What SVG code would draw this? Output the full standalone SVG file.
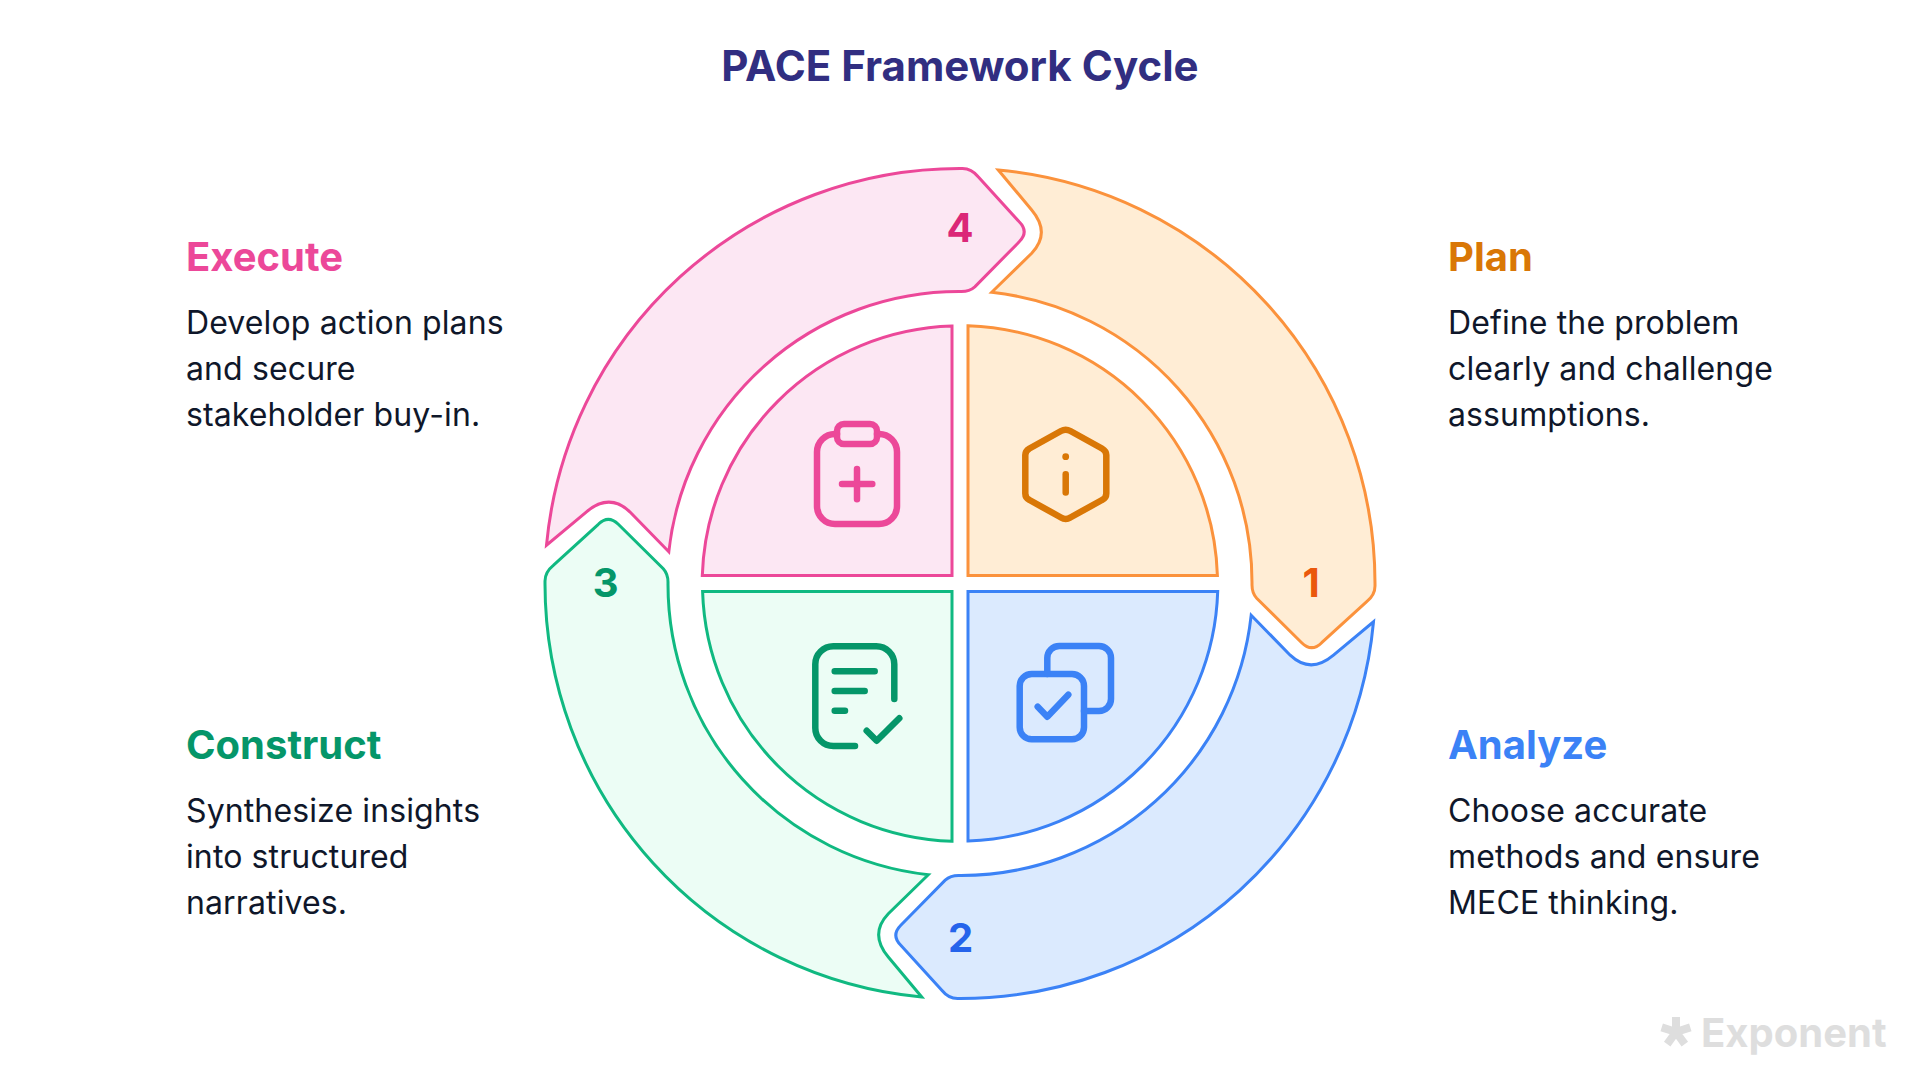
<svg xmlns="http://www.w3.org/2000/svg" width="1920" height="1080" viewBox="0 0 1920 1080">
<defs>
<path id="ring" d="M998.3 170A415 415 0 0 1 1375 583.5V586Q1375 595 1366.7 601.7L1321.7 642.7Q1311.7 652.7 1301.7 642.7L1256.7 598.3Q1252 593 1252 585V583.5A292 292 0 0 0 991.7 292.3L1031.7 253.3Q1051 233 1031.7 210Z"/>
<path id="quad" d="M968 325.8A257.6 257.6 0 0 1 1217.4 575.5H968Z"/>
</defs>
<style>
text{font-family:Inter,"Liberation Sans",sans-serif;font-optical-sizing:none}
.seg{stroke-width:3;stroke-linejoin:miter}
.ic{fill:none;stroke-width:6.5;stroke-linecap:round;stroke-linejoin:round}
.head{font-size:40px;font-weight:700}
.body{font-size:32px;font-weight:400;fill:#0F172A;letter-spacing:.12px}
.num{font-size:40px;font-weight:700;text-anchor:middle}
.o{fill:#FFEDD5;stroke:#FB923C}.b{fill:#DBEAFE;stroke:#3B82F6}.g{fill:#ECFDF5;stroke:#10B981}.p{fill:#FCE7F3;stroke:#EC4899}
</style>
<rect width="1920" height="1080" fill="#FFFFFF"/>
<text id="title" x="960" y="81" text-anchor="middle" font-size="42" font-weight="700" fill="#312E81">PACE Framework Cycle</text>
<g id="node-plan">
<use href="#ring" class="seg o"/><use href="#quad" class="seg o"/>
<text class="num" x="1311" y="597" fill="#EA580C">1</text>
<path class="ic" stroke="#D97706" d="M1061 431Q1065.7 428.4 1070.4 431L1102 448.5Q1106.3 451 1106.3 455V493.5Q1106.3 498 1102 500L1070.4 517.5Q1065.7 520.5 1061 517.5L1029.5 500Q1025.3 498 1025.3 493.5V455Q1025.3 451 1029.5 448.5Z"/>
<circle cx="1065.7" cy="456.7" r="3.4" fill="#D97706"/>
<path class="ic" stroke="#D97706" d="M1065.7 474.3V492.5"/>
<text class="head" x="1448" y="271" fill="#D97706">Plan</text>
<text class="body" x="1448" y="334">Define the problem</text>
<text class="body" x="1448" y="380">clearly and challenge</text>
<text class="body" x="1448" y="426">assumptions.</text>
</g>
<g id="node-analyze">
<use href="#ring" class="seg b" transform="rotate(90 960 583.5)"/><use href="#quad" class="seg b" transform="rotate(90 960 583.5)"/>
<text class="num" x="960.7" y="952" fill="#2563EB">2</text>
<g class="ic" stroke="#3B82F6">
<rect x="1019.7" y="674" width="64.3" height="65.3" rx="12"/>
<path d="M1047.3 674V658a12 12 0 0 1 12-12H1099a12 12 0 0 1 12 12V699a12 12 0 0 1-12 12H1084"/>
<path d="M1037.7 706.7L1047.3 716.7L1068.3 694.7"/>
</g>
<text class="head" x="1448" y="759" fill="#3B82F6">Analyze</text>
<text class="body" x="1448" y="822">Choose accurate</text>
<text class="body" x="1448" y="868">methods and ensure</text>
<text class="body" x="1448" y="914">MECE thinking.</text>
</g>
<g id="node-construct">
<use href="#ring" class="seg g" transform="rotate(180 960 583.5)"/><use href="#quad" class="seg g" transform="rotate(180 960 583.5)"/>
<text class="num" x="605.7" y="597" fill="#059669">3</text>
<g class="ic" stroke="#059669">
<path d="M894.3 699V664.3a18 18 0 0 0-18-18H833.3a18 18 0 0 0-18 18V728a18 18 0 0 0 18 18H855"/>
<path d="M834.7 671.3H874.7M834.7 691H864.7M834.7 710.7H845"/>
<path d="M866.7 730.7L876.7 740.7L899.3 718.3"/>
</g>
<text class="head" x="186" y="759" fill="#059669">Construct</text>
<text class="body" x="186" y="822">Synthesize insights</text>
<text class="body" x="186" y="868">into structured</text>
<text class="body" x="186" y="914">narratives.</text>
</g>
<g id="node-execute">
<use href="#ring" class="seg p" transform="rotate(270 960 583.5)"/><use href="#quad" class="seg p" transform="rotate(270 960 583.5)"/>
<text class="num" x="960" y="242" fill="#DB2777">4</text>
<g class="ic" stroke="#EC4899">
<path d="M837 434H835a18 18 0 0 0-18 18V506a18 18 0 0 0 18 18H879a18 18 0 0 0 18-18V452a18 18 0 0 0-18-18H877"/>
<rect x="837" y="424" width="40" height="20" rx="7"/>
<path d="M842 484H872.3M857 469V499.3"/>
</g>
<text class="head" x="186" y="271" fill="#EC4899">Execute</text>
<text class="body" x="186" y="334">Develop action plans</text>
<text class="body" x="186" y="380">and secure</text>
<text class="body" x="186" y="426">stakeholder buy-in.</text>
</g>
<g id="watermark">
<path d="M1676 1032V1017M1676 1032L1690.3 1027.4M1676 1032L1684.8 1044.1M1676 1032L1667.2 1044.1M1676 1032L1661.7 1027.4" stroke="#DEDEDE" stroke-width="8" fill="none"/>
<text x="1701" y="1046.7" font-size="40" font-weight="700" fill="#DEDEDE">Exponent</text>
</g>
</svg>
